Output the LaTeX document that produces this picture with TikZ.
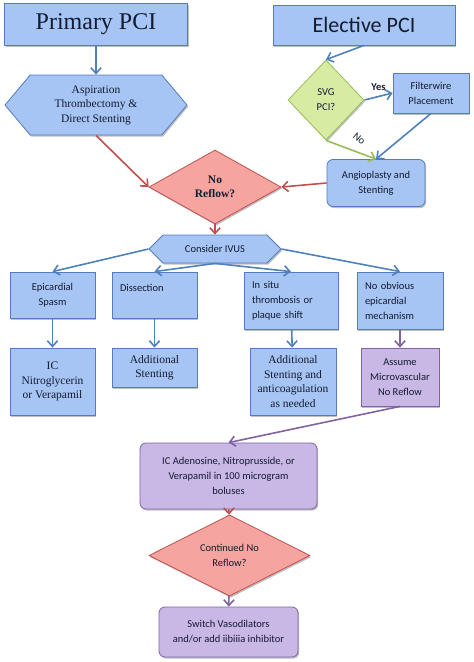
\documentclass[tikz,border=0pt]{standalone}
\usepackage{fontspec}
\setmainfont{Liberation Serif}
\newfontfamily\carl{Carlito}
\usetikzlibrary{arrows.meta,shapes.geometric,shapes.symbols,shadows}

\begin{document}
\begin{tikzpicture}[x=1pt, y=-1pt, every node/.style={inner sep=0pt, text={rgb,255:red,20;green,28;blue,48}}]
  \tikzset{shad/.style={drop shadow={opacity=0.25, fill=black, shadow xshift=1.2pt, shadow yshift=-1.6pt}}}
  \tikzset{box/.style={rectangle, shad, draw={rgb,255:red,84;green,124;blue,190}, line width=0.8pt, fill={rgb,255:red,166;green,196;blue,244}, align=center}}
  \tikzset{rbox/.style={box, rounded corners=6pt}}
  \tikzset{pbox/.style={box, draw={rgb,255:red,128;green,100;blue,162}, fill={rgb,255:red,201;green,183;blue,230}}}
  \tikzset{hexa/.style={signal, signal to=west and east, shad, draw={rgb,255:red,84;green,124;blue,190}, line width=0.8pt, fill={rgb,255:red,166;green,196;blue,244}, align=center}}
  \tikzset{redd/.style={diamond, shad, draw={rgb,255:red,192;green,80;blue,77}, line width=0.8pt, fill={rgb,255:red,245;green,164;blue,160}, align=center}}
  \tikzset{grnd/.style={diamond, shad, draw={rgb,255:red,155;green,187;blue,89}, line width=0.8pt, fill={rgb,255:red,215;green,236;blue,162}, align=center}}
  \tikzset{B/.style={draw={rgb,255:red,79;green,129;blue,189}, line width=1.6pt, -{Straight Barb[length=2mm, width=3.6mm]}}}
  \tikzset{R/.style={B, draw={rgb,255:red,192;green,80;blue,77}}}
  \tikzset{P/.style={B, draw={rgb,255:red,128;green,100;blue,162}}}
  \tikzset{G/.style={B, draw={rgb,255:red,155;green,187;blue,89}}}
  \tikzset{sm/.style={font=\fontsize{11.5}{14.5}\selectfont}}
  \tikzset{ss/.style={font=\carl\fontsize{10.5}{15}\selectfont}}
  \useasboundingbox (0,0) rectangle (474,662);
  % top row
  \node[box, minimum width=183pt, minimum height=42pt, font=\fontsize{24}{28}\selectfont] (prim) at (96,24) {Primary PCI};
  \node[box, minimum width=182pt, minimum height=40pt, font=\carl\fontsize{22}{26}\selectfont] (elec) at (364,25) {Elective PCI};
  \node[hexa, sm, minimum width=182pt, minimum height=60pt, signal pointer angle=100] (asp) at (96,105) {Aspiration\\Thrombectomy \&\\Direct Stenting};
  \node[grnd, ss, minimum width=76pt, minimum height=80pt] (svg) at (326,100) {SVG\\PCI?};
  \node[box, ss, minimum width=76pt, minimum height=40pt] (filt) at (431,93) {Filterwire\\Placement};
  \node[rbox, ss, minimum width=98pt, minimum height=47pt] (angio) at (376,183) {Angioplasty and\\Stenting};
  \node[redd, sm, font=\bfseries\fontsize{11.5}{14.5}\selectfont, minimum width=132pt, minimum height=74pt] (noref) at (215,187) {No\\Reflow?};
  \node[hexa, ss, minimum width=132pt, minimum height=28pt, signal pointer angle=90] (ivus) at (215,249) {Consider IVUS};
  % mechanisms
  \node[box, ss, minimum width=85pt, minimum height=46pt] (spasm) at (52.5,295) {Epicardial\\Spasm};
  \node[box, ss, align=left, text width=69pt, inner xsep=8pt, minimum height=46pt] (dissec) at (154.5,295) {Dissection\\~};
  \node[box, ss, align=left, text width=78pt, inner xsep=8pt, minimum height=57pt] (insitu) at (291,300.5) {In situ\\thrombosis or\\plaque shift};
  \node[box, ss, align=left, text width=70pt, inner xsep=8pt, minimum height=57pt] (noobv) at (400,300.5) {No obvious\\epicardial\\mechanism};
  % treatments
  \node[box, sm, minimum width=85pt, minimum height=67pt] (nitro) at (52.5,381.5) {IC\\Nitroglycerin\\or Verapamil};
  \node[box, sm, minimum width=85pt, minimum height=39pt] (addst) at (154.5,367.5) {Additional\\Stenting};
  \node[box, sm, minimum width=86pt, minimum height=67pt] (anti) at (293,381.5) {Additional\\Stenting and\\anticoagulation\\as needed};
  \node[pbox, ss, minimum width=78pt, minimum height=58pt] (micro) at (400,377) {Assume\\Microvascular\\No Reflow};
  % bottom
  \node[pbox, rounded corners=6pt, ss, minimum width=177pt, minimum height=66pt] (adeno) at (228.5,476) {IC Adenosine, Nitroprusside, or\\Verapamil in 100 microgram\\boluses};
  \node[redd, ss, minimum width=161pt, minimum height=75pt] (cont) at (229.5,555.5) {Continued No\\Reflow?};
  \node[pbox, rounded corners=6pt, ss, minimum width=139pt, minimum height=50pt] (switch) at (228.5,632) {Switch Vasodilators\\and/or add iibiiia inhibitor};
  % arrows
  \draw[B] (prim) -- (asp);
  \draw[B] (elec.south) -- (svg.north);
  \draw[B] (svg.east) -- node[above=5pt, ss, font=\carl\bfseries\fontsize{10.5}{12}\selectfont] {Yes} (filt.west);
  \draw[B] (filt.south) -- (angio.north);
  \draw[G] (svg.south) -- node[pos=0.55, above=9pt, xshift=3pt, rotate=-40, ss] {No} (angio.north);
  \draw[R] (asp.south) -- (noref.west);
  \draw[R] (angio.west) -- (noref.east);
  \draw[R] (noref.south) -- (ivus.north);
  \draw[B] (ivus.west) -- (spasm.north);
  \draw[B] (ivus.south) -- (dissec.north);
  \draw[B] (ivus.south) -- (insitu.north);
  \draw[B] (ivus.east) -- (noobv.north);
  \draw[B] (spasm) -- (nitro);
  \draw[B] (dissec) -- (addst);
  \draw[B] (insitu) -- (anti);
  \draw[P] (noobv) -- (micro);
  \draw[P] (micro.south) -- (adeno.north);
  \draw[R] (adeno) -- (cont);
  \draw[P] (cont) -- (switch);
\end{tikzpicture}
\end{document}
